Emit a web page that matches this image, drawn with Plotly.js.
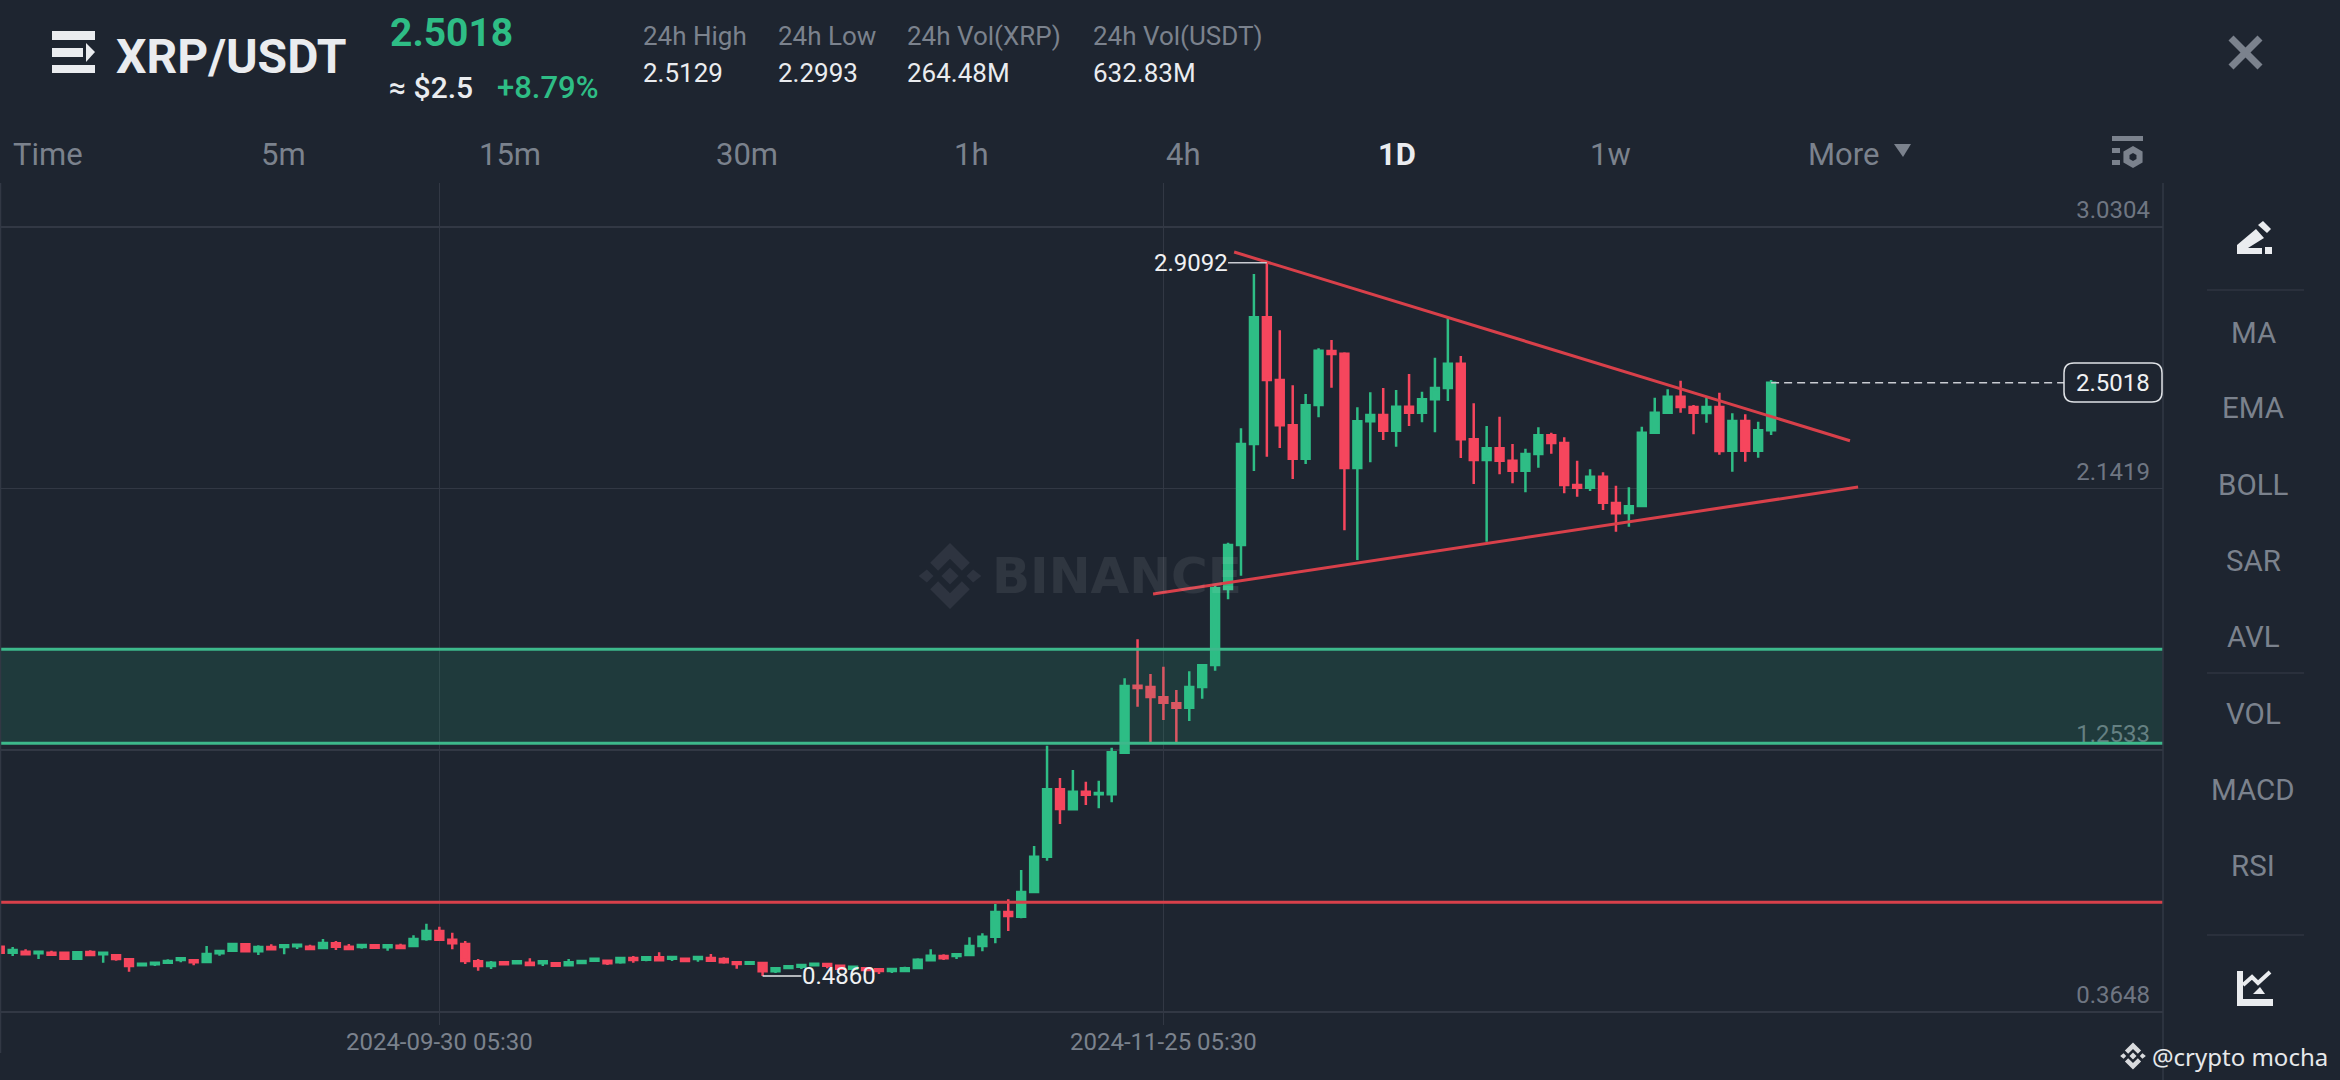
<!DOCTYPE html>
<html>
<head>
<meta charset="utf-8">
<script src="https://cdn.plot.ly/plotly-3.0.1.min.js"></script>
<style>html,body{margin:0;padding:0;background:#1e2530;overflow:hidden}#chart{width:2340px;height:1080px}</style>
</head>
<body>
<div id="chart"></div>
<script>
const dates = ["2024-08-27","2024-08-28","2024-08-29","2024-08-30","2024-08-31","2024-09-01","2024-09-02","2024-09-03","2024-09-04","2024-09-05","2024-09-06","2024-09-07","2024-09-08","2024-09-09","2024-09-10","2024-09-11","2024-09-12","2024-09-13","2024-09-14","2024-09-15","2024-09-16","2024-09-17","2024-09-18","2024-09-19","2024-09-20","2024-09-21","2024-09-22","2024-09-23","2024-09-24","2024-09-25","2024-09-26","2024-09-27","2024-09-28","2024-09-29","2024-09-30",
"2024-10-01","2024-10-02","2024-10-03","2024-10-04","2024-10-05","2024-10-06","2024-10-07","2024-10-08","2024-10-09","2024-10-10","2024-10-11","2024-10-12","2024-10-13","2024-10-14","2024-10-15","2024-10-16","2024-10-17","2024-10-18","2024-10-19","2024-10-20","2024-10-21","2024-10-22","2024-10-23","2024-10-24","2024-10-25","2024-10-26","2024-10-27","2024-10-28","2024-10-29","2024-10-30","2024-10-31",
"2024-11-01","2024-11-02","2024-11-03","2024-11-04","2024-11-05","2024-11-06","2024-11-07","2024-11-08","2024-11-09","2024-11-10","2024-11-11","2024-11-12","2024-11-13","2024-11-14","2024-11-15","2024-11-16","2024-11-17","2024-11-18","2024-11-19","2024-11-20","2024-11-21","2024-11-22","2024-11-23","2024-11-24","2024-11-25","2024-11-26","2024-11-27","2024-11-28","2024-11-29","2024-11-30",
"2024-12-01","2024-12-02","2024-12-03","2024-12-04","2024-12-05","2024-12-06","2024-12-07","2024-12-08","2024-12-09","2024-12-10","2024-12-11","2024-12-12","2024-12-13","2024-12-14","2024-12-15","2024-12-16","2024-12-17","2024-12-18","2024-12-19","2024-12-20","2024-12-21","2024-12-22","2024-12-23","2024-12-24","2024-12-25","2024-12-26","2024-12-27","2024-12-28","2024-12-29","2024-12-30","2024-12-31",
"2025-01-01","2025-01-02","2025-01-03","2025-01-04","2025-01-05","2025-01-06","2025-01-07","2025-01-08","2025-01-09","2025-01-10","2025-01-11"];

const open = [.5859,.5655,.5689,.5632,.5655,.5655,.5451,.5678,.5599,.5565,.5429,.5225,.5259,.5315,.5406,.5395,.5338,.5632,.5723,.5938,.5700,.5848,.5848,.5870,.5859,.5814,.5972,.5859,.5848,.5904,.5836,.5893,.5882,.6119,.6391,
.6097,.5949,.5361,.5202,.5327,.5293,.5315,.5293,.5293,.5225,.5304,.5383,.5383,.5327,.5474,.5417,.5497,.5451,.5451,.5440,.5474,.5440,.5327,.5282,.5304,.5021,.5134,.5180,.5225,.5270,.5214,
.5112,.5123,.5089,.5032,.5032,.5134,.5395,.5542,.5542,.5576,.5882,.6199,.7037,.6878,.7716,.8916,1.1203,1.0524,1.1124,1.1033,1.1033,1.2448,1.4724,1.4679,1.4328,1.4124,1.3977,1.4679,1.5426,1.8009,
1.9503,2.2934,2.7236,2.5107,2.3568,2.2435,2.4258,2.6092,2.6002,2.2118,2.3704,2.3919,2.3386,2.4202,2.3998,2.4451,2.4836,2.5662,2.3092,2.2390,2.2786,2.2368,2.2028,2.2594,2.3228,2.2968,2.1541,2.1450,2.1824,2.0930,2.0590,
2.0828,2.3319,2.3998,2.4541,2.4190,2.3987,2.4190,2.2707,2.3715,2.2707,2.3398];

const high = [.5916,.5848,.5768,.5712,.5723,.5655,.5678,.5734,.5689,.5587,.5474,.5315,.5349,.5429,.5497,.5417,.5882,.5746,.5995,.5949,.5904,.5938,.5916,.5949,.5927,.6119,.6051,.5949,.5949,.5949,.5949,.5961,.6244,.6640,.6538,
.6334,.6051,.5440,.5372,.5338,.5372,.5463,.5372,.5338,.5440,.5383,.5485,.5406,.5519,.5542,.5542,.5666,.5531,.5474,.5542,.5610,.5497,.5349,.5338,.5315,.5146,.5214,.5248,.5315,.5293,.5248,
.5214,.5146,.5112,.5134,.5180,.5463,.5768,.5599,.5632,.6176,.6312,.7308,.7467,.8463,.9278,1.2686,1.1588,1.1860,1.1464,1.1497,1.2618,1.4973,1.6298,1.5121,1.5370,1.4577,1.5211,1.5449,1.8144,1.9582,
2.3466,2.8708,2.9092,2.6794,2.4926,2.4632,2.6183,2.6466,2.6047,2.4179,2.4689,2.4836,2.4768,2.5311,2.4711,2.5866,2.7225,2.5923,2.4315,2.3545,2.3862,2.2934,2.2775,2.3500,2.3319,2.3160,2.2368,2.2073,2.1971,2.1518,2.1462,
2.3522,2.4507,2.4790,2.5085,2.4258,2.4507,2.4677,2.3975,2.3941,2.3692,2.5107];

const low = [.5655,.5542,.5565,.5440,.5553,.5417,.5440,.5553,.5315,.5383,.5010,.5202,.5202,.5270,.5327,.5225,.5327,.5553,.5689,.5689,.5576,.5734,.5599,.5780,.5746,.5768,.5746,.5757,.5791,.5791,.5723,.5780,.5848,.6063,.6085,
.5768,.5270,.5044,.5100,.5236,.5282,.5225,.5202,.5202,.5202,.5293,.5338,.5236,.5282,.5315,.5361,.5361,.5372,.5349,.5349,.5361,.5282,.5112,.5259,.4860,.4964,.5089,.5100,.5191,.5123,.5066,
.5044,.5044,.4930,.4964,.5010,.5123,.5361,.5406,.5440,.5542,.5701,.5972,.6391,.6821,.7693,.8780,1.0026,1.0524,1.0671,1.0558,1.0762,1.2448,1.4011,1.2788,1.3558,1.2788,1.3524,1.4283,1.5234,1.7658,
1.8461,2.2017,2.2503,2.2798,2.1745,2.2254,2.3839,2.4847,2.0001,1.8994,2.2311,2.3069,2.2843,2.3545,2.3670,2.3330,2.4394,2.2458,2.1575,1.9616,2.1903,2.1598,2.1292,2.2130,2.2605,2.1258,2.1145,2.1337,2.0692,1.9956,2.0126,
2.0805,2.3296,2.3953,2.3998,2.3262,2.3658,2.2571,2.1994,2.2334,2.2469,2.3239];

const close = [.5655,.5746,.5599,.5689,.5587,.5451,.5666,.5576,.5655,.5440,.5202,.5282,.5315,.5372,.5463,.5327,.5610,.5712,.5949,.5700,.5848,.5768,.5904,.5927,.5780,.5983,.5859,.5780,.5916,.5825,.5904,.5814,.6119,.6391,.6097,
.5972,.5372,.5202,.5315,.5259,.5361,.5236,.5361,.5214,.5327,.5372,.5451,.5293,.5474,.5406,.5497,.5395,.5508,.5372,.5508,.5383,.5327,.5270,.5327,.5021,.5123,.5191,.5236,.5282,.5214,.5112,
.5180,.5066,.5032,.5100,.5123,.5417,.5553,.5463,.5599,.5882,.6199,.7037,.6901,.7716,.8916,1.1203,1.0535,1.1124,1.1022,1.1079,1.2460,1.4713,1.4645,1.4339,1.4147,1.3977,1.4679,1.5415,1.8031,1.9503,
2.2934,2.7236,2.5107,2.3568,2.2435,2.4247,2.6104,2.5991,2.2118,2.3704,2.3919,2.3386,2.4202,2.3998,2.4451,2.4836,2.5662,2.3092,2.2390,2.2786,2.2368,2.2028,2.2594,2.3228,2.2968,2.1541,2.1450,2.1824,2.0941,2.0579,2.0816,
2.3319,2.3998,2.4541,2.4190,2.3998,2.4190,2.2696,2.3715,2.2707,2.3398,2.5018];

const priceTicks = [3.0304, 2.1419, 1.2533, 0.3648];
const priceTickText = ["3.0304", "2.1419", "1.2533", "0.3648"];
const dateTicks = ["2024-09-30", "2024-11-25"];
const dateTickText = ["2024-09-30 05:30", "2024-11-25 05:30"];

const upperTrendX = ["2024-11-30 11:17", "2025-01-17 02:24"];
const upperTrendY = [2.9455, 2.3045];
const lowerTrendX = ["2024-11-24 04:48", "2025-01-17 17:31"];
const lowerTrendY = [1.7838, 2.1472];

const zoneTop = 1.5959, zoneBottom = 1.2767, supportLevel = 0.7366;
const lastPrice = 2.5018, peakPrice = 2.9092, troughPrice = 0.4860;

const timeframes = ["Time", "5m", "15m", "30m", "1h", "4h", "1D", "1w", "More"];
const indicators = ["MA", "EMA", "BOLL", "SAR", "AVL", "VOL", "MACD", "RSI"];
const stats = [["24h High", "2.5129"], ["24h Low", "2.2993"], ["24h Vol(XRP)", "264.48M"], ["24h Vol(USDT)", "632.83M"]];

const L = 0, R = 2163, T = 183, B = 1025;
const fx = p => (p - L) / (R - L);
const fy = p => (B - p) / (B - T);
const GREEN = "#2ebd85", RED = "#f6465d", LINE_RED = "#d8404a", WHITE = "#eaecef", GREY = "#7b828d", DIM = "#6f7682", GRID = "#323844";
const FONT = "Roboto, sans-serif";

function txt(px, py, text, size, color, anchor, weight, family) {
  return {xref: "paper", yref: "paper", x: fx(px), y: fy(py), text, showarrow: false,
    xanchor: anchor || "left", yanchor: "middle",
    font: {size, color, family: family || FONT, weight: weight || 400}};
}
const poly = (pts, closed = true) => "M" + pts.map(p => fx(p[0]) + " " + fy(p[1])).join(" L") + (closed ? " Z" : "");
const fillPath = (pts, color, layer) => ({type: "path", xref: "paper", yref: "paper", path: poly(pts), fillcolor: color, line: {width: 0}, layer: layer || "above"});
const rectS = (x0, y0, x1, y1, color, layer) => fillPath([[x0, y0], [x1, y0], [x1, y1], [x0, y1]], color, layer);
const seg = (x0, y0, x1, y1, color, w) => ({type: "line", xref: "paper", yref: "paper", x0: fx(x0), y0: fy(y0), x1: fx(x1), y1: fy(y1), line: {color, width: w}, layer: "above"});
const hex = (cx, cy, r) => [[cx, cy - r], [cx + r * .87, cy - r / 2], [cx + r * .87, cy + r / 2], [cx, cy + r], [cx - r * .87, cy + r / 2], [cx - r * .87, cy - r / 2]];

function logo(cx, cy, r, color, layer) {
  const m = a => a.map(p => [cx + p[0] * r, cy + p[1] * r]);
  return [
    [[0, -.26], [.26, 0], [0, .26], [-.26, 0]],
    [[-.7, -.2], [-.5, 0], [-.7, .2], [-.95, 0]],
    [[.7, -.2], [.95, 0], [.7, .2], [.5, 0]],
    [[0, -1], [.6, -.4], [.36, -.16], [0, -.52], [-.36, -.16], [-.6, -.4]],
    [[0, 1], [.6, .4], [.36, .16], [0, .52], [-.36, .16], [-.6, .4]]
  ].map(a => fillPath(m(a), color, layer));
}

function roundBox(x0, y0, x1, y1, rad) {
  const X = fx, Y = fy;
  return "M" + X(x0 + rad) + " " + Y(y0) + " L" + X(x1 - rad) + " " + Y(y0) +
    " Q" + X(x1) + " " + Y(y0) + " " + X(x1) + " " + Y(y0 + rad) +
    " L" + X(x1) + " " + Y(y1 - rad) + " Q" + X(x1) + " " + Y(y1) + " " + X(x1 - rad) + " " + Y(y1) +
    " L" + X(x0 + rad) + " " + Y(y1) + " Q" + X(x0) + " " + Y(y1) + " " + X(x0) + " " + Y(y1 - rad) +
    " L" + X(x0) + " " + Y(y0 + rad) + " Q" + X(x0) + " " + Y(y0) + " " + X(x0 + rad) + " " + Y(y0) + " Z";
}

const tfX = [11, 283, 510, 747, 971, 1183, 1397, 1610, 1806];
const tfAnnots = timeframes.map((t, i) => {
  const isLeft = t === "Time" || t === "More";
  return txt(tfX[i], 154, t, 31, t === "1D" ? WHITE : GREY, isLeft ? "left" : "center", t === "1D" ? 700 : 400);
});
const indY = [332.5, 408.5, 484.5, 560.5, 637, 714, 789.5, 865.5];
const indAnnots = indicators.map((t, i) => txt(2253, indY[i], t, 29.5, GREY, "center"));
const statX = [641, 776, 905, 1091];
const statAnnots = stats.flatMap((s, i) => [txt(statX[i], 36, s[0], 26, GREY), txt(statX[i], 73, s[1], 26, WHITE, "left", 400)]);

const annotations = [
  txt(114, 57, "XRP/USDT", 48, WHITE, "left", 700),
  txt(388, 33, "2.5018", 39, GREEN, "left", 700),
  txt(387, 87, "≈ $2.5", 30, WHITE, "left", 500),
  txt(495, 87, "+8.79%", 31, GREEN, "left", 500),
  ...statAnnots, ...tfAnnots, ...indAnnots,
  txt(990, 576, "BINANCE", 50, "rgba(255,255,255,0.08)", "left", 700, "DejaVu Sans"),
  {xref: "x", yref: "y", x: "2024-11-30 04:00", y: peakPrice, text: "2.9092", showarrow: false, xanchor: "right", yanchor: "middle", font: {size: 24, color: "#f0f1f3", family: FONT}},
  {xref: "x", yref: "y", x: "2024-10-27 22:00", y: troughPrice, text: "0.4860", showarrow: false, xanchor: "left", yanchor: "middle", font: {size: 24, color: "#f0f1f3", family: FONT}},
  {xref: "paper", yref: "y", x: fx(2113), y: lastPrice, text: "2.5018", showarrow: false, xanchor: "center", yanchor: "middle", font: {size: 24, color: "#f0f1f3", family: FONT}},
  txt(2150, 1056, "@crypto mocha", 24, "#e6e8ea", "left", 400, "Noto Sans")
];

const shapes = [
  ...logo(950, 576, 33, "#2e3440", "below"),
  {type: "rect", xref: "paper", yref: "y", x0: 0, x1: 1, y0: zoneBottom, y1: zoneTop, fillcolor: "rgba(46,189,133,0.14)", line: {width: 0}, layer: "above"},
  {type: "line", xref: "paper", yref: "y", x0: 0, x1: 1, y0: zoneTop, y1: zoneTop, line: {color: "#3db98b", width: 3}, layer: "above"},
  {type: "line", xref: "paper", yref: "y", x0: 0, x1: 1, y0: zoneBottom, y1: zoneBottom, line: {color: "#3db98b", width: 3}, layer: "above"},
  {type: "line", xref: "paper", yref: "y", x0: 0, x1: 1, y0: supportLevel, y1: supportLevel, line: {color: LINE_RED, width: 3}, layer: "above"},
  seg(2163, 183, 2163, 1080, GRID, 1.5),
  seg(0.5, 183, 0.5, 1053, GRID, 1.5),
  seg(2207, 290, 2304, 290, "#2f3540", 1.5),
  seg(2207, 673, 2304, 673, "#2f3540", 1.5),
  seg(2207, 935, 2304, 935, "#2f3540", 1.5),
  {type: "path", xref: "paper", yref: "paper", path: roundBox(2064, 363, 2162, 402, 10), fillcolor: "#1e2530", line: {color: "#dfe2e6", width: 1.5}, layer: "above"},
  // menu icon
  rectS(52, 31, 95, 40, WHITE), rectS(52, 48, 83, 57, WHITE), rectS(52, 65, 95, 73, WHITE),
  fillPath([[86, 43], [95, 52], [86, 62]], WHITE),
  // close icon
  seg(2231, 38, 2260, 67, GREY, 7), seg(2260, 38, 2231, 67, GREY, 7),
  // settings icon
  rectS(2112, 136, 2143, 141, GREY), rectS(2112, 148, 2120, 153, GREY), rectS(2112, 160, 2120, 165, GREY),
  fillPath(hex(2133, 157, 11), GREY), fillPath(hex(2133, 157, 4), "#1e2530"),
  // more caret
  fillPath([[1894, 144], [1911, 144], [1903, 157]], GREY),
  // pencil icon
  fillPath([[2237, 254], [2237, 245], [2256, 229], [2264, 238], [2248, 248], [2262, 248], [2262, 254]], WHITE),
  fillPath([[2258, 225], [2263, 221], [2271, 229], [2267, 233]], WHITE),
  rectS(2265, 247, 2272, 254, WHITE),
  // indicator chart icon
  fillPath([[2237, 971], [2243, 971], [2243, 999], [2273, 999], [2273, 1006], [2237, 1006]], WHITE),
  {type: "path", xref: "paper", yref: "paper", path: poly([[2243, 985], [2252, 977], [2258, 983], [2270, 972]], false), fillcolor: "rgba(0,0,0,0)", line: {color: WHITE, width: 4}, layer: "above"},
  fillPath([[2253, 994], [2260, 987], [2265, 994]], WHITE),
  // watermark logos
  ...logo(2133, 1056, 13.5, "#d9dbde")
];

const traces = [
  {type: "candlestick", x: dates, open, high, low, close, whiskerwidth: 0,
    increasing: {line: {color: GREEN, width: 2.5}, fillcolor: GREEN},
    decreasing: {line: {color: RED, width: 2.5}, fillcolor: RED}, hoverinfo: "skip", showlegend: false},
  {type: "scatter", mode: "lines", x: upperTrendX, y: upperTrendY, line: {color: LINE_RED, width: 3}, showlegend: false, hoverinfo: "skip"},
  {type: "scatter", mode: "lines", x: lowerTrendX, y: lowerTrendY, line: {color: LINE_RED, width: 3}, showlegend: false, hoverinfo: "skip"},
  {type: "scatter", mode: "lines", x: ["2025-01-11", "2025-02-03 14:24"], y: [lastPrice, lastPrice], line: {color: "#c9ccd2", width: 1.5, dash: "8px,5px"}, showlegend: false, hoverinfo: "skip"},
  {type: "scatter", mode: "lines", x: ["2024-11-30", "2024-12-03"], y: [peakPrice, peakPrice], line: {color: "#c9ccd2", width: 1.5}, showlegend: false, hoverinfo: "skip"},
  {type: "scatter", mode: "lines", x: ["2024-10-25", "2024-10-28"], y: [troughPrice, troughPrice], line: {color: "#e6e8ea", width: 1.5}, showlegend: false, hoverinfo: "skip"}
];

const layout = {
  width: 2340, height: 1080,
  margin: {l: L, r: 2340 - R, t: T, b: 1080 - B, pad: 0},
  paper_bgcolor: "#1e2530", plot_bgcolor: "#1e2530",
  font: {family: FONT, color: DIM},
  showlegend: false, boxgap: 0.13, boxgroupgap: 0.3, hovermode: false,
  xaxis: {type: "date", range: ["2024-08-27 00:29", "2025-02-10 07:26"], rangeslider: {visible: false},
    tickmode: "array", tickvals: dateTicks, ticktext: dateTickText, tickangle: 0,
    showgrid: true, gridcolor: GRID, gridwidth: 1.5, zeroline: false, showline: false, ticks: "",
    tickfont: {size: 24, color: GREY, family: FONT}},
  yaxis: {type: "linear", side: "right", range: [0.3198, 3.1799],
    tickmode: "array", tickvals: priceTicks, ticktext: priceTickText,
    ticklabelposition: "inside", ticklabelshift: -17, ticklabelstandoff: 10,
    showgrid: true, gridcolor: GRID, gridwidth: 1.5, zeroline: false, showline: false, ticks: "",
    tickfont: {size: 24, color: DIM, family: FONT}},
  annotations, shapes
};

Plotly.newPlot("chart", traces, layout, {staticPlot: true, displayModeBar: false});
</script>
</body>
</html>
